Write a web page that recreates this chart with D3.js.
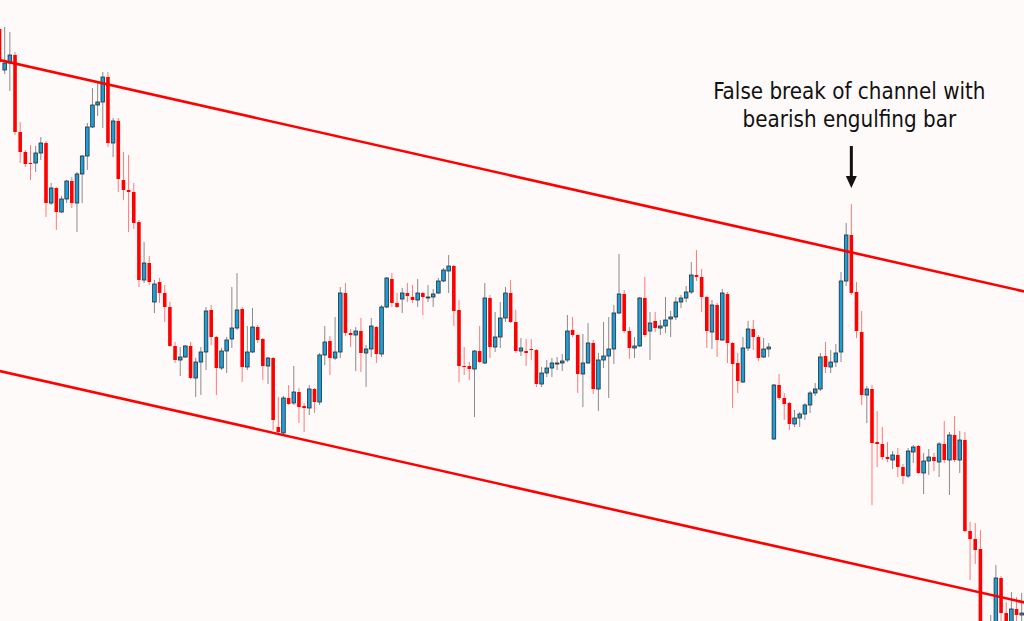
<!DOCTYPE html>
<html>
<head>
<meta charset="utf-8">
<script src="https://cdn.jsdelivr.net/npm/d3@7/dist/d3.min.js"></script>
<style>
  html, body { margin: 0; padding: 0; background: #fffafa; overflow: hidden; }
  svg { display: block; }
</style>
</head>
<body>
<div id="chart"></div>
<script>
// ---- DATA (price bars, oldest first) ----
const opens = [
1.1671,1.1630,1.1637,1.1645,1.1568,1.1548,1.1537,1.1537,1.1547,1.1557,
1.1497,1.1512,1.1488,1.1501,1.1519,1.1497,1.1526,1.1544,1.1573,1.1595,
1.1598,1.1623,1.1557,1.1579,1.1520,1.1510,1.1508,1.1478,1.1420,1.1437,
1.1398,1.1418,1.1407,1.1393,1.1354,1.1340,1.1343,1.1354,1.1322,1.1338,
1.1348,1.1390,1.1363,1.1332,1.1349,1.1361,1.1372,1.1391,1.1333,1.1348,
1.1373,1.1361,1.1334,1.1342,1.1273,1.1267,1.1302,1.1297,1.1308,1.1294,
1.1292,1.1311,1.1298,1.1345,1.1359,1.1342,1.1348,1.1407,1.1367,1.1365,
1.1369,1.1347,1.1351,1.1373,1.1346,1.1393,1.1421,1.1397,1.1401,1.1407,
1.1403,1.1400,1.1407,1.14025,1.1403,1.1407,1.1419,1.1429,1.1434,1.1390,
1.1334,1.1334,1.1331,1.1349,1.1337,1.1402,1.1353,1.1363,1.1382,1.1407,
1.1378,1.1349,1.1349,1.1351,1.1350,1.1316,1.1327,1.1332,1.13365,1.1337,
1.1340,1.1370,1.1365,1.1326,1.1337,1.1357,1.1311,1.1340,1.1344,1.1351,
1.1387,1.1406,1.1369,1.1352,1.1354,1.1402,1.1369,1.1379,1.1372,1.1374,
1.1381,1.1383,1.1398,1.1402,1.1408,1.1425,1.1423,1.1403,1.1368,1.1395,
1.1360,1.1406,1.1357,1.1337,1.1318,1.1352,1.1371,1.1363,1.1343,1.1351,
1.1261,1.1315,1.1302,1.1297,1.1276,1.1282,1.1286,1.1295,1.1307,1.1311,
1.1344,1.1333,1.1338,1.1348,1.1419,1.1465,1.1408,1.1368,1.1305,1.1311,
1.1258,1.1256,1.1243,1.1240,1.1245,1.1233,1.1224,1.1248,1.1254,1.1227,
1.1239,1.1243,1.1238,1.1256,1.1240,1.1265,1.1240,1.1260,1.1169,1.1161,
1.1151,1.1060,1.1040,1.1060,1.1122,1.1087,1.1070,1.1091,1.1085
];
const highs = [
1.1673,1.1673,1.1668,1.1648,1.1578,1.1550,1.1555,1.1554,1.1563,1.1559,
1.1517,1.1513,1.1504,1.1520,1.1523,1.1528,1.1545,1.1577,1.1612,1.1617,
1.1628,1.1628,1.1582,1.1582,1.1548,1.1545,1.1517,1.1480,1.1458,1.1444,
1.1420,1.1422,1.1415,1.1398,1.1358,1.1353,1.1355,1.1358,1.1342,1.1353,
1.1393,1.1395,1.1364,1.1352,1.1363,1.1413,1.1427,1.1393,1.1374,1.1392,
1.1375,1.1362,1.1343,1.1343,1.1303,1.1304,1.1315,1.1334,1.1312,1.1297,
1.1315,1.1312,1.1347,1.1374,1.1364,1.1383,1.1413,1.1417,1.1371,1.1373,
1.1382,1.1355,1.1382,1.1374,1.1395,1.1423,1.1427,1.1407,1.1412,1.1417,
1.1415,1.1421,1.1408,1.1415,1.1411,1.1422,1.1432,1.1445,1.1435,1.1400,
1.1353,1.1338,1.1350,1.1374,1.1417,1.1405,1.1388,1.1398,1.1413,1.1420,
1.1390,1.1362,1.1361,1.1361,1.1351,1.1333,1.1340,1.1342,1.1343,1.1346,
1.1385,1.1383,1.1366,1.1366,1.1377,1.1360,1.1347,1.1378,1.1383,1.1395,
1.1446,1.1410,1.1373,1.1363,1.1403,1.1423,1.1388,1.1388,1.1380,1.1403,
1.1389,1.1403,1.1405,1.1414,1.1438,1.1450,1.1431,1.1404,1.1400,1.1397,
1.1411,1.1408,1.1358,1.1347,1.1363,1.1379,1.1380,1.1365,1.1362,1.1357,
1.1316,1.1326,1.1307,1.1298,1.1290,1.1288,1.1297,1.1309,1.1317,1.1347,
1.1358,1.1350,1.1356,1.1428,1.1477,1.1496,1.1418,1.1389,1.1314,1.1315,
1.1289,1.1273,1.1258,1.1249,1.1252,1.1236,1.1252,1.1255,1.1255,1.1247,
1.1251,1.1247,1.1258,1.1279,1.1268,1.1284,1.1269,1.1268,1.1178,1.1177,
1.1170,1.1072,1.1085,1.1135,1.1124,1.1098,1.1108,1.1103,1.1107
];
const lows = [
1.1634,1.1626,1.1609,1.1565,1.1537,1.1533,1.1520,1.1528,1.1540,1.1483,
1.1495,1.1470,1.1487,1.1497,1.1492,1.1468,1.1497,1.1530,1.1572,1.1584,
1.1572,1.1553,1.1543,1.1508,1.1500,1.1468,1.1471,1.1413,1.1417,1.1415,
1.1387,1.1397,1.1378,1.1353,1.1337,1.1324,1.1342,1.1321,1.1303,1.1305,
1.1330,1.1355,1.1305,1.1330,1.1327,1.1352,1.1370,1.1318,1.1330,1.1347,
1.1357,1.1320,1.1316,1.1270,1.1267,1.1266,1.1295,1.1295,1.1277,1.1268,
1.1285,1.1287,1.1295,1.1335,1.1325,1.1340,1.1342,1.1364,1.1353,1.1329,
1.1328,1.1313,1.1343,1.1337,1.1343,1.1392,1.1393,1.1392,1.1387,1.1398,
1.1397,1.1393,1.1385,1.1398,1.1393,1.1406,1.1418,1.1407,1.1374,1.1318,
1.1325,1.1320,1.1283,1.1337,1.1336,1.1342,1.1348,1.1352,1.1378,1.1377,
1.1347,1.1344,1.1334,1.1340,1.1313,1.1313,1.1323,1.1323,1.1330,1.1329,
1.1338,1.1363,1.1307,1.1293,1.1336,1.1306,1.1289,1.1332,1.1302,1.1336,
1.1386,1.1367,1.1341,1.1342,1.1353,1.1363,1.1340,1.1368,1.1365,1.1367,
1.1363,1.1380,1.1392,1.1398,1.1406,1.1419,1.1388,1.1352,1.1351,1.1343,
1.1359,1.1337,1.1292,1.1307,1.1317,1.1349,1.1350,1.1339,1.1342,1.1343,
1.1260,1.1300,1.1280,1.1270,1.1273,1.1273,1.1280,1.1287,1.1304,1.1309,
1.1327,1.1327,1.1333,1.1338,1.1414,1.1405,1.1362,1.1295,1.1277,1.1195,
1.1233,1.1240,1.1238,1.1231,1.1223,1.1216,1.1222,1.1237,1.1226,1.1206,
1.1225,1.1229,1.1223,1.1237,1.1205,1.1238,1.1227,1.1168,1.1120,1.1136,
1.1050,1.1035,1.1030,1.1055,1.1075,1.1070,1.1065,1.1075,1.1075
];
const closes = [
1.1638,1.1637,1.1645,1.1568,1.1548,1.1536,1.1536,1.1547,1.1557,1.1497,
1.1512,1.1488,1.1501,1.1519,1.1497,1.1526,1.1544,1.1573,1.1595,1.1598,
1.1623,1.1557,1.1579,1.1521,1.1510,1.1508,1.1477,1.1420,1.1437,1.1418,
1.1416,1.1407,1.1393,1.1354,1.1340,1.1343,1.1354,1.1322,1.1338,1.1348,
1.1389,1.1363,1.1332,1.1349,1.1360,1.1372,1.1390,1.1333,1.1348,1.1373,
1.1360,1.1334,1.1342,1.1280,1.1268,1.1302,1.1296,1.1308,1.1293,1.1292,
1.1311,1.1298,1.1345,1.1358,1.1342,1.1348,1.1407,1.1367,1.1365,1.1369,
1.1347,1.1351,1.1374,1.1346,1.1393,1.1422,1.1397,1.1393,1.1407,1.1404,
1.1400,1.1407,1.1403,1.1403,1.1406,1.1419,1.1430,1.1434,1.1389,1.1334,
1.1333,1.1331,1.1349,1.1338,1.1402,1.1353,1.1363,1.1382,1.1407,1.1378,
1.1349,1.1352,1.1347,1.1350,1.1316,1.1327,1.1332,1.1337,1.1337,1.1339,
1.1369,1.1365,1.1326,1.1337,1.1357,1.1311,1.1340,1.1344,1.1351,1.1387,
1.1406,1.1369,1.1352,1.1354,1.1402,1.1365,1.1377,1.1372,1.1374,1.1380,
1.1383,1.1398,1.1402,1.1408,1.1425,1.1423,1.1403,1.1369,1.1395,1.1360,
1.1407,1.1357,1.1336,1.1319,1.1352,1.1371,1.1363,1.1342,1.1351,1.1353,
1.1315,1.1302,1.1296,1.1276,1.1282,1.1286,1.1295,1.1307,1.1311,1.1343,
1.1333,1.1338,1.1347,1.1419,1.1465,1.1407,1.1369,1.1305,1.1311,1.1257,
1.1256,1.1243,1.1241,1.1245,1.1233,1.1224,1.1249,1.1253,1.1227,1.1239,
1.1243,1.1239,1.1256,1.1240,1.1265,1.1240,1.1260,1.1169,1.1161,1.1150,
1.1060,1.1040,1.1070,1.1122,1.1087,1.1075,1.1091,1.1085,1.1087
];

// channel trend lines: [bar index, price] anchors
const channelUpper = [[0, 1.1640], [199, 1.1408]];
const channelLower = [[0, 1.1329], [199, 1.1097]];

// annotation
const noteLines = ["False break of channel with", "bearish engulfing bar"];
const noteBar = 165;

// ---- CHART ----
const W = 1024, H = 621;
const bars = opens.map((o, i) => ({ i, o, h: highs[i], l: lows[i], c: closes[i] }));

const x = d3.scaleLinear().domain([0, bars.length - 1]).range([-0.46, 1021.7]);
const y = d3.scaleLinear().domain([1.10, 1.17]).range([700, 0]);

const svg = d3.select("#chart").append("svg")
  .attr("width", W).attr("height", H)
  .style("background", "#fffafa");

const bw = 3.6;
const up = d => d.c >= d.o;

const g = svg.append("g");

// wicks
g.selectAll("line.wick").data(bars).join("line")
  .attr("class", "wick")
  .attr("x1", d => x(d.i)).attr("x2", d => x(d.i))
  .attr("y1", d => y(d.h)).attr("y2", d => y(d.l))
  .attr("stroke", d => up(d) ? "#8a8a8a" : "#ff7878")
  .attr("stroke-width", 1);

// bodies
g.selectAll("rect.body").data(bars).join("rect")
  .attr("class", "body")
  .attr("x", d => x(d.i) - bw / 2)
  .attr("width", bw)
  .attr("y", d => y(Math.max(d.o, d.c)))
  .attr("height", d => Math.max(1, Math.abs(y(d.o) - y(d.c))))
  .attr("fill", d => up(d) ? "#1a9fdb" : "#ff0000")
  .attr("stroke", d => up(d) ? "#2b2b2b" : "none")
  .attr("stroke-width", 0.8);

// channel lines
const line = d3.line().x(d => x(d[0])).y(d => y(d[1]));
[channelUpper, channelLower].forEach(pts => {
  svg.append("path")
    .attr("d", line(pts))
    .attr("fill", "none")
    .attr("stroke", "#ff0000")
    .attr("stroke-width", 2.6);
});

// annotation text
const ax = x(noteBar);
svg.append("text")
  .attr("x", ax - 2).attr("y", 99)
  .attr("text-anchor", "middle")
  .attr("font-family", "'DejaVu Sans Condensed', 'DejaVu Sans', sans-serif")
  .attr("font-size", 22.2)
  .attr("fill", "#111")
  .selectAll("tspan").data(noteLines).join("tspan")
  .attr("x", ax - 2)
  .attr("dy", (d, i) => i === 0 ? 0 : 28)
  .text(d => d);

// arrow
svg.append("rect")
  .attr("x", ax - 1.5).attr("y", 146)
  .attr("width", 3).attr("height", 32)
  .attr("fill", "#111");
svg.append("path")
  .attr("d", `M${ax - 5.5},176 L${ax + 5.5},176 L${ax},188 Z`)
  .attr("fill", "#111");
</script>
</body>
</html>
